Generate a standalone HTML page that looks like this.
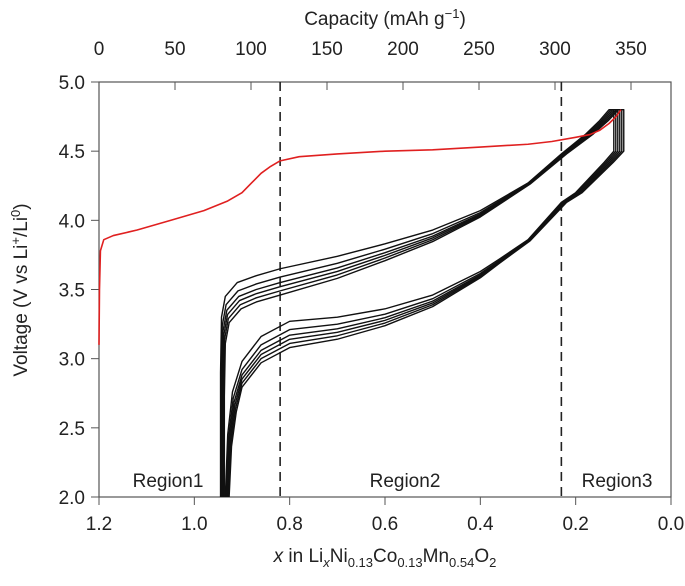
<!DOCTYPE html>
<html><head><meta charset="utf-8"><style>
body{margin:0;background:#fff}
svg text{font-family:"Liberation Sans",Arial,sans-serif;fill:#222}
</style></head><body>
<svg id="c" width="685" height="581" xmlns="http://www.w3.org/2000/svg"></svg>
<script>
const xTicks=[1.2,1.0,0.8,0.6,0.4,0.2,0.0];
const xTickLabels=["1.2","1.0","0.8","0.6","0.4","0.2","0.0"];
const yTicks=[2.0,2.5,3.0,3.5,4.0,4.5,5.0];
const capTicks=[0,50,100,150,200,250,300,350];
const regionBounds=[0.82,0.23];
const redX=[1.2,1.199,1.197,1.19,1.17,1.12,1.05,0.98,0.93,0.9,0.88,0.86,0.84,0.82,0.78,0.7,0.6,0.5,0.4,0.3,0.25,0.2,0.17,0.15,0.13,0.115,0.105];
const redV=[3.1,3.5,3.78,3.86,3.89,3.93,4.0,4.07,4.14,4.2,4.27,4.34,4.39,4.43,4.46,4.48,4.5,4.51,4.53,4.55,4.57,4.6,4.62,4.65,4.7,4.75,4.8];
const cycX=[0.945,0.945,0.943,0.935,0.91,0.87,0.82,0.7,0.6,0.5,0.4,0.3,0.23,0.18,0.15,0.13,0.12,0.12,0.14,0.2,0.23,0.3,0.36,0.4,0.5,0.6,0.7,0.8,0.86,0.9,0.92,0.93,0.935];
const cycV=[2.0,2.9,3.3,3.45,3.55,3.6,3.65,3.74,3.83,3.93,4.07,4.27,4.48,4.62,4.72,4.8,4.8,4.5,4.42,4.2,4.13,3.86,3.72,3.63,3.46,3.36,3.3,3.27,3.16,2.98,2.76,2.45,2.0];
const cycleDx=[0,0.004,0.008,0.012,0.016,0.02];
const cycleDv=[0,-0.06,-0.1,-0.13,-0.16,-0.19];
const L=99,R=671,T=82,B=497;
const sx=x=>L+(1.2-x)/1.2*(R-L);
const sy=v=>B-(v-2)/3*(B-T);
const cap=c=>L+c*1.52;
const svg=document.getElementById('c');
const NS='http://www.w3.org/2000/svg';
function mk(t,a,p){const e=document.createElementNS(NS,t);for(const k in a)e.setAttribute(k,a[k]);(p||svg).appendChild(e);return e;}
let e;
e=mk('rect',{x:L,y:T,width:R-L,height:B-T,fill:'none',stroke:'#555','stroke-width':1.2});


xTicks.forEach((t,i)=>{
 e=mk('line',{x1:sx(t),x2:sx(t),y1:B,y2:B+8,stroke:'#555'});
 
 
 e=mk('text',{x:sx(t),y:B+33,'text-anchor':'middle','font-size':19});
 e.textContent=xTickLabels[i];
 
 
});
yTicks.forEach(t=>{
 e=mk('line',{x1:L-8,x2:L,y1:sy(t),y2:sy(t),stroke:'#555'});
 
 
 e=mk('text',{x:L-14,y:sy(t)+7,'text-anchor':'end','font-size':19});
 e.textContent=t.toFixed(1);
 
 
});
capTicks.forEach(t=>{
 e=mk('line',{x1:cap(t),x2:cap(t),y1:T,y2:T+8,stroke:'#555'});
 
 
 e=mk('text',{x:cap(t),y:T-27,'text-anchor':'middle','font-size':19});
 e.textContent=t;
 
 
});
regionBounds.forEach(b=>{
 e=mk('line',{x1:sx(b),x2:sx(b),y1:T,y2:B,stroke:'#222','stroke-width':1.6,'stroke-dasharray':'9,6'});
 
 
});
[['Region1',168],['Region2',405],['Region3',617]].forEach(r=>{
 e=mk('text',{x:r[1],y:487,'text-anchor':'middle','font-size':19});
 e.textContent=r[0];
 
 
});
cycleDx.forEach((dx,i)=>{
 const dv=cycleDv[i];
 const pts=cycX.map((x,j)=>{
   let v=cycV[j];
   if(v>2.0&&v<4.8){const f=Math.min(1,Math.max(0,(x-0.28)/0.5));v+=dv*f*Math.min(1,(v-2)/1.0);}
   let xx=x;
   if(x<0.35)xx=x-dx*(0.35-x)/0.22;
   else if(x>0.9)xx=x-dx*0.4;
   return sx(xx)+','+sy(v);}).join(' ');
 e=mk('polyline',{points:pts,fill:'none',stroke:'#111','stroke-width':1.4,'stroke-linejoin':'round'});
 
 
});
e=mk('polyline',{points:redX.map((x,i)=>sx(x)+','+sy(redV[i])).join(' '),fill:'none',stroke:'#e02020','stroke-width':1.6,'stroke-linejoin':'round'});


</script>
<svg width="685" height="581" style="position:absolute;left:0;top:0" xmlns="http://www.w3.org/2000/svg">
<text x="385" y="25" text-anchor="middle" font-size="19" font-family="Liberation Sans, sans-serif" fill="#222">Capacity (mAh g<tspan dy="-7" font-size="13">−1</tspan><tspan dy="7">)</tspan></text>
<text x="385" y="562" text-anchor="middle" font-size="19" font-family="Liberation Sans, sans-serif" fill="#222"><tspan font-style="italic">x</tspan> in Li<tspan dy="5" font-size="13" font-style="italic">x</tspan><tspan dy="-5">Ni</tspan><tspan dy="5" font-size="13">0.13</tspan><tspan dy="-5">Co</tspan><tspan dy="5" font-size="13">0.13</tspan><tspan dy="-5">Mn</tspan><tspan dy="5" font-size="13">0.54</tspan><tspan dy="-5">O</tspan><tspan dy="5" font-size="13">2</tspan></text>
<text transform="translate(27,290) rotate(-90)" text-anchor="middle" font-size="19" font-family="Liberation Sans, sans-serif" fill="#222">Voltage (V vs Li<tspan dy="-7" font-size="13">+</tspan><tspan dy="7">/Li</tspan><tspan dy="-7" font-size="13">0</tspan><tspan dy="7">)</tspan></text>
</svg>
</body></html>
